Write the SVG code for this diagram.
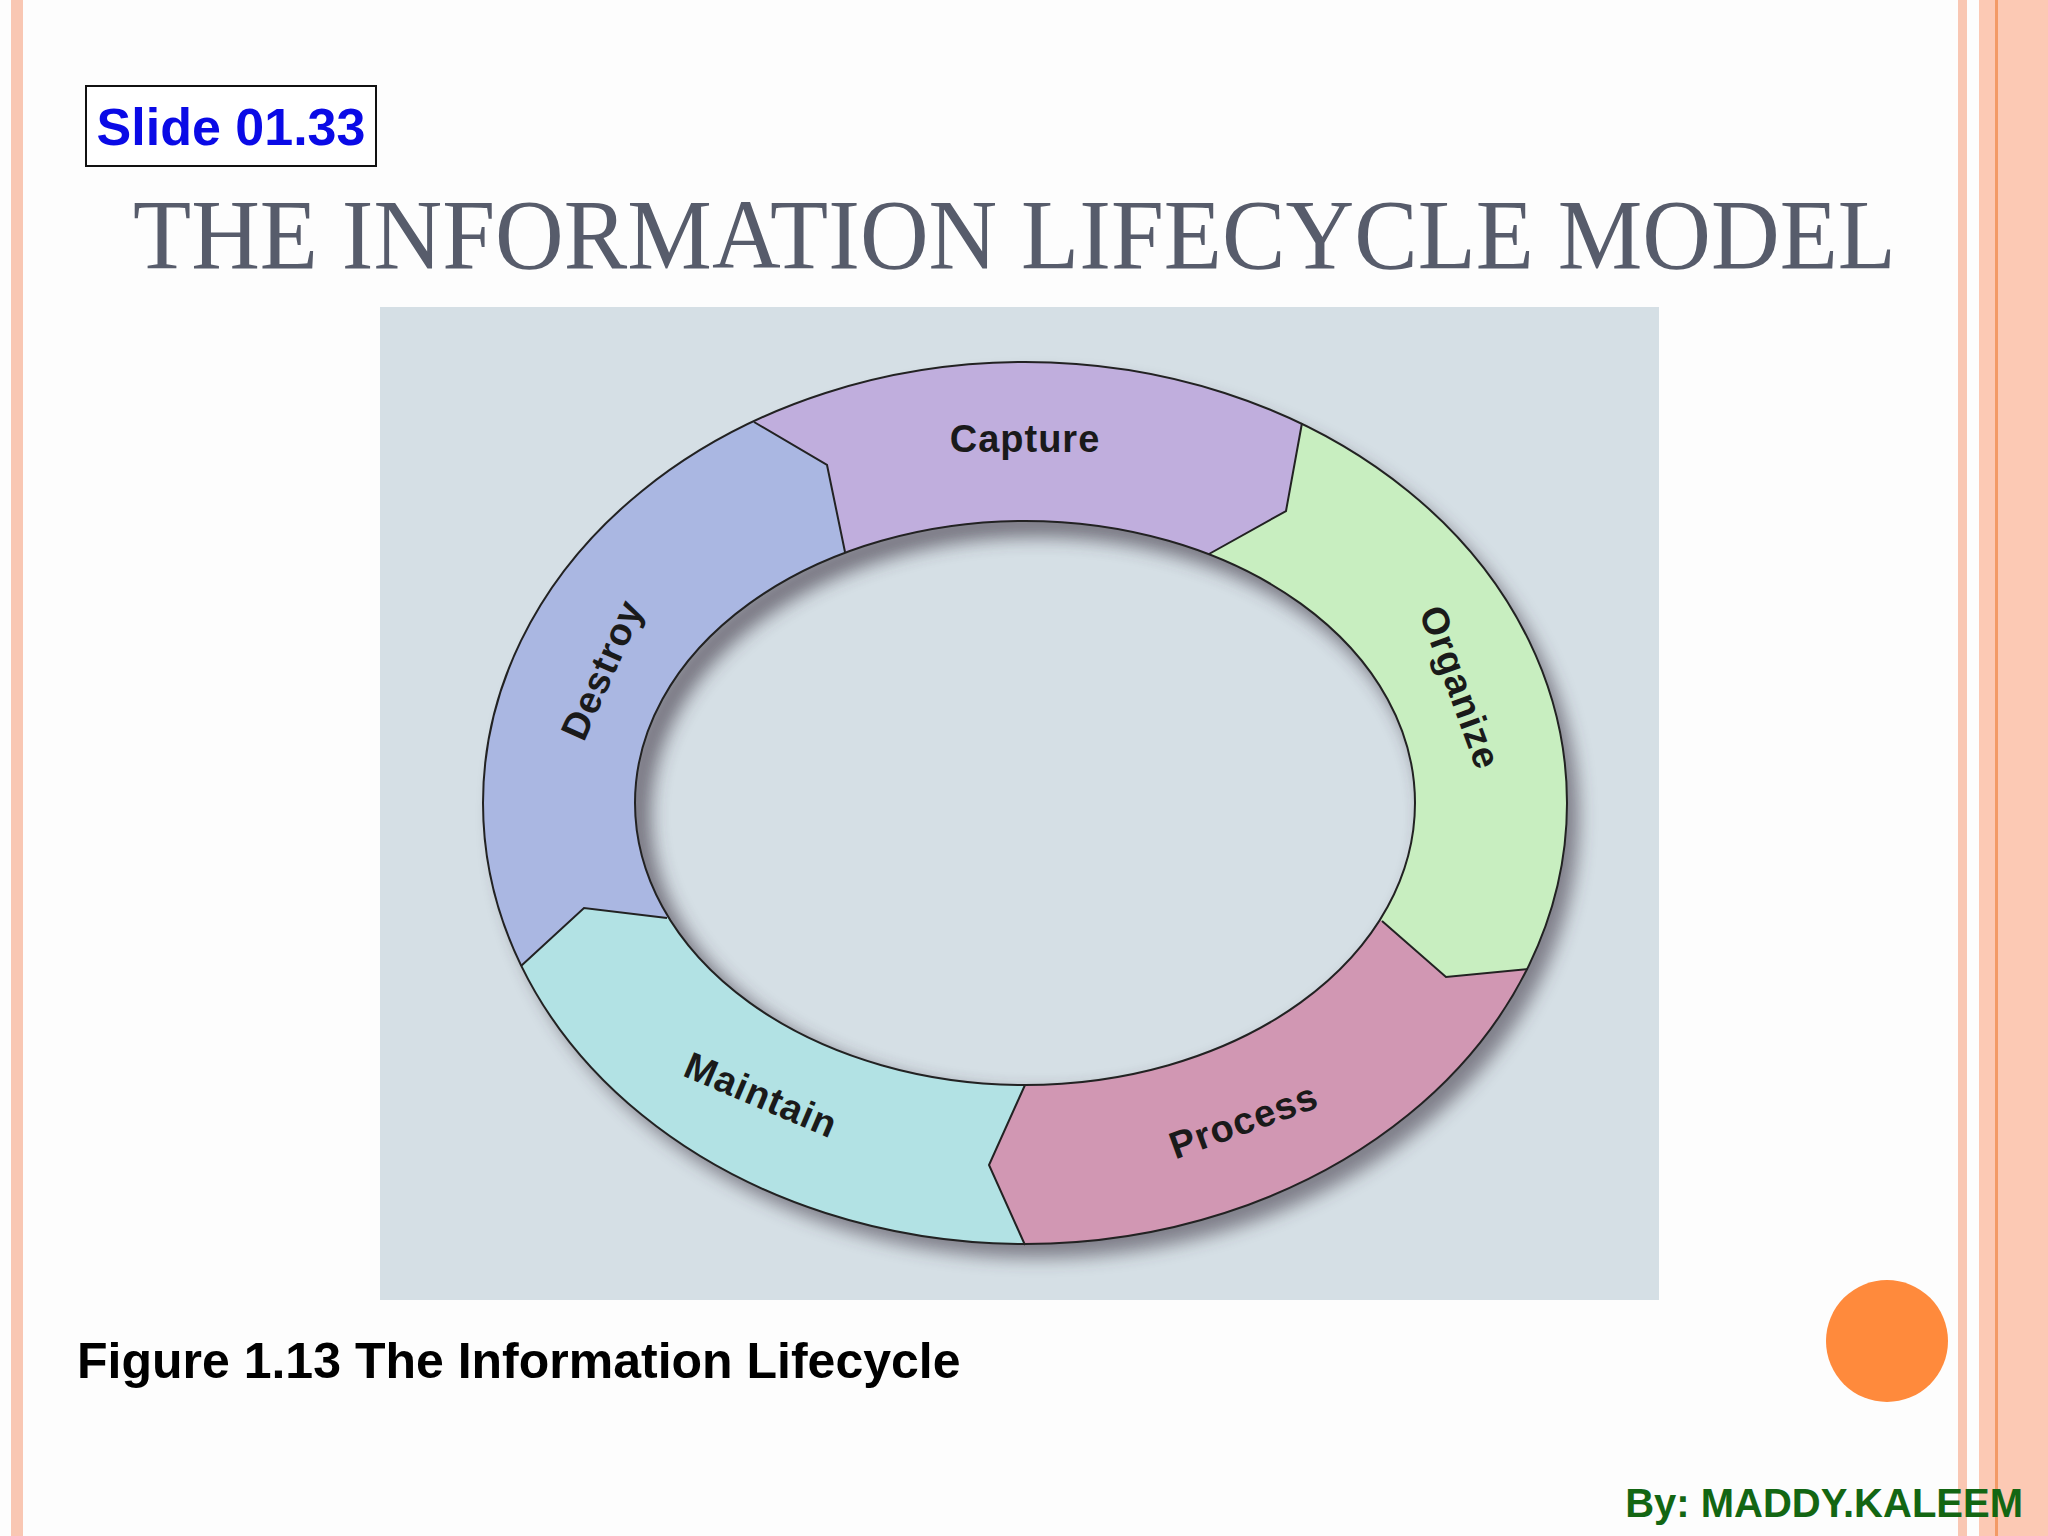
<svg xmlns="http://www.w3.org/2000/svg" width="2048" height="1536" viewBox="0 0 2048 1536">
<style>
.seg{stroke:none}
.lbl{font-family:"Liberation Sans",Arial,sans-serif;font-weight:bold;font-size:38px;fill:#1a1a1a;text-anchor:middle;letter-spacing:1px}
.edge{fill:none;stroke:#222;stroke-width:2}
</style>
<defs>
<clipPath id="ring"><path clip-rule="evenodd" d="M483,803 a542,441 0 1,0 1084,0 a542,441 0 1,0 -1084,0 Z M635,803 a390,282 0 1,0 780,0 a390,282 0 1,0 -780,0 Z"/></clipPath>
<filter id="blur" x="-20%" y="-20%" width="140%" height="140%"><feGaussianBlur stdDeviation="9"/></filter>
<clipPath id="hole"><ellipse cx="1025" cy="803" rx="390" ry="282"/></clipPath>
</defs>
<rect width="2048" height="1536" fill="#fdfdfd"/>
<rect x="11" y="0" width="12" height="1536" fill="#f9c7b3"/>
<rect x="1958" y="0" width="9" height="1536" fill="#f9c7b3"/>
<rect x="1979" y="0" width="69" height="1536" fill="#fcc9b4"/>
<rect x="1995" y="0" width="3" height="1536" fill="#f39a66"/>
<g id="slide-label">
<rect x="86" y="86" width="290" height="80" fill="#fff" stroke="#111" stroke-width="2"/>
<text x="231" y="145" font-family="Liberation Sans,Arial,sans-serif" font-weight="bold" font-size="52" fill="#0a0ae6" text-anchor="middle">Slide 01.33</text>
</g>
<text id="title" x="133" y="268" textLength="1763" lengthAdjust="spacingAndGlyphs" font-family="Liberation Serif,Times New Roman,serif" font-size="100" fill="#575c6b">THE INFORMATION LIFECYCLE MODEL</text>
<rect id="panel" x="380" y="307" width="1279" height="993" fill="#d5dfe5"/>
<ellipse cx="1037" cy="817" rx="542" ry="441" fill="#3a3040" opacity="0.55" filter="url(#blur)"/>
<g clip-path="url(#ring)">
<g id="capture"><polygon class="seg" fill="#c0aedd" points="1025,803 845,552 827,465 754,422 212,-340 1856,-337 1302,423 1286,511 1209,554"/></g>
<g id="organize"><polygon class="seg" fill="#c8eec0" points="1025,803 1209,554 1286,511 1302,423 1856,-337 2534,1301 1528,969 1446,977 1382,921"/></g>
<g id="process"><polygon class="seg" fill="#d197b3" points="1025,803 1382,921 1446,977 1528,969 2534,1301 1025,2129 1025,1245 989,1165 1025,1085"/></g>
<g id="maintain"><polygon class="seg" fill="#b2e2e4" points="1025,803 1025,1085 989,1165 1025,1245 1025,2129 -487,1292 521,966 584,908 667,918"/></g>
<g id="destroy"><polygon class="seg" fill="#aab7e2" points="1025,803 667,918 584,908 521,966 -487,1292 212,-340 754,422 827,465 845,552"/></g>
</g>
<g clip-path="url(#hole)">
<ellipse cx="1025" cy="803" rx="390" ry="282" fill="#d5dfe5"/>
<ellipse cx="1025" cy="803" rx="400" ry="292" fill="none" stroke="#3a3040" stroke-width="28" opacity="0.6" filter="url(#blur)" transform="translate(12,12)"/>
</g>
<g id="connectors">
<ellipse class="edge" cx="1025" cy="803" rx="542" ry="441"/>
<ellipse class="edge" cx="1025" cy="803" rx="390" ry="282"/>
<polyline class="edge" points="845,552 827,465 754,422"/>
<polyline class="edge" points="1209,554 1286,511 1302,423"/>
<polyline class="edge" points="1382,921 1446,977 1528,969"/>
<polyline class="edge" points="1025,1085 989,1165 1025,1245"/>
<polyline class="edge" points="667,918 584,908 521,966"/>
</g>
<text class="lbl" x="1025" y="452">Capture</text>
<text class="lbl" transform="translate(1448,692) rotate(70)">Organize</text>
<text class="lbl" transform="translate(1248,1133) rotate(-20)">Process</text>
<text class="lbl" transform="translate(756,1107) rotate(23)">Maintain</text>
<text class="lbl" transform="translate(614,675) rotate(-66)">Destroy</text>
<text id="caption" x="77" y="1378" font-family="Liberation Sans,Arial,sans-serif" font-weight="bold" font-size="50" fill="#000">Figure 1.13 The Information Lifecycle</text>
<circle cx="1887" cy="1341" r="61" fill="#ff8a3c"/>
<text x="2023" y="1517" font-family="Liberation Sans,Arial,sans-serif" font-weight="bold" font-size="40" fill="#136613" text-anchor="end">By: MADDY.KALEEM</text>
</svg>
